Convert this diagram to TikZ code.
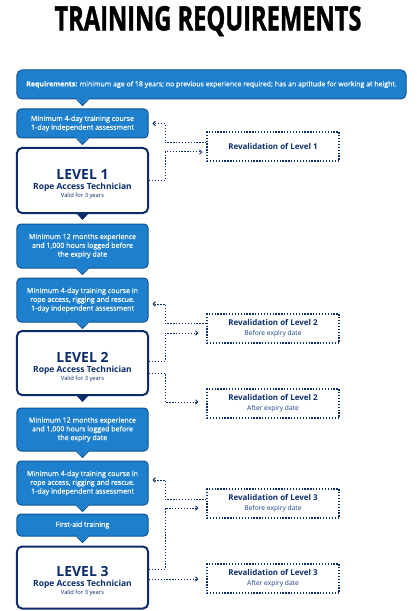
\documentclass[tikz,border=0pt]{standalone}
\usepackage{fontspec}
\setmainfont{Open Sans}
\newfontfamily\titlefont[FakeBold=1.5]{Open Sans}
\newfontfamily\semifont[FakeBold=0.35]{Open Sans}
\usetikzlibrary{arrows.meta}
\definecolor{bfill}{HTML}{1E80CC}
\definecolor{bline}{HTML}{0E5496}
\definecolor{navy}{HTML}{0D2C6C}
\definecolor{subblue}{HTML}{1B3F86}
\newcommand\bluetip[1]{%
  \fill[bfill] ([xshift=-6bp,yshift=1.5bp]#1) -- ([yshift=-6bp]#1) -- ([xshift=6bp,yshift=1.5bp]#1) -- cycle;
  \draw[bline,line width=1bp] ([xshift=-6bp]#1) -- ([yshift=-6bp]#1) -- ([xshift=6bp]#1);}
\newcommand\navytip[1]{%
  \fill[navy] ([xshift=-6bp,yshift=0.5bp]#1) -- ([yshift=-6bp]#1) -- ([xshift=6bp,yshift=0.5bp]#1) -- cycle;}
\newcommand\lvltext[1]{{\fontsize{14}{14}\selectfont\bfseries LEVEL #1}\\[-2bp]{\fontsize{8.5}{10}\selectfont\bfseries Rope Access Technician}\\[-4bp]{\fontsize{5.8}{7}\selectfont Valid for 3 years}}
\begin{document}
\begin{tikzpicture}[x=1bp,y=-1bp,
  bluebox/.style={draw=bline, fill=bfill, line width=1bp, rounded corners=4bp, text=white,
    font=\semifont\fontsize{7.1}{8.8}\selectfont, align=center, inner sep=0pt, minimum width=131bp},
  levelbox/.style={draw=navy, fill=white, line width=2bp, rounded corners=5bp,
    inner sep=0pt, minimum width=131bp},
  lvltxt/.style={text=navy, align=center, inner sep=0pt},
  revalbox/.style={draw=navy, line width=1.2bp, dash pattern=on 1.3bp off 1.6bp, text=navy,
    align=center, inner sep=0pt, minimum width=132bp, minimum height=29bp},
  conn/.style={draw=navy, line width=1bp, dash pattern=on 1.3bp off 1.6bp,
    -{Straight Barb[length=2.2bp,width=4.5bp]}}]
\useasboundingbox (0,0) rectangle (416,611);
% title
\node (title) at (208,21) {\scalebox{0.72}[1.02]{\titlefont\bfseries\fontsize{33}{36}\selectfont TRAINING REQUIREMENTS}};
% requirements
\node[bluebox, minimum width=389bp, minimum height=29bp, rounded corners=5bp, font=\semifont\fontsize{7}{8.6}\selectfont] (req) at (211.5,84.5)
  {\textbf{Requirements:} minimum age of 18 years; no previous experience required; has an aptitude for working at height.};
% left column
\node[bluebox, minimum height=29bp] (c1) at (82.5,123.5) {Minimum 4-day training course\\1-day independent assessment};
\node[levelbox, minimum height=65bp] (L1) at (82.5,180.5) {};
\node[lvltxt] (L1t) at ([yshift=-4bp]L1.center) {\lvltext{1}};
\node[bluebox, minimum height=44bp] (b2) at (82.5,246) {Minimum 12 months experience\\and 1,000 hours logged before\\the expiry date};
\node[bluebox, minimum height=44bp] (c2) at (82.5,300) {Minimum 4-day training course in\\rope access, rigging and rescue.\\1-day independent assessment};
\node[levelbox, minimum height=64bp] (L2) at (82.5,363) {};
\node[lvltxt] (L2t) at ([yshift=-4bp]L2.center) {\lvltext{2}};
\node[bluebox, minimum height=43bp] (b4) at (82.5,429.5) {Minimum 12 months experience\\and 1,000 hours logged before\\the expiry date};
\node[bluebox, minimum height=44bp] (c5) at (82.5,483) {Minimum 4-day training course in\\rope access, rigging and rescue.\\1-day independent assessment};
\node[bluebox, minimum height=22bp] (fa) at (82.5,525) {First-aid training};
\node[levelbox, minimum height=62bp] (L3) at (82.5,577.5) {};
\node[lvltxt] (L3t) at ([yshift=-4bp]L3.center) {\lvltext{3}};
% pointers
\coordinate (reqtip) at (req.south -| c1.south);
\bluetip{reqtip}
\bluetip{c1.south}
\bluetip{b2.south}
\bluetip{c2.south}
\bluetip{b4.south}
\bluetip{c5.south}
\bluetip{fa.south}
\navytip{L1.south}
\navytip{L2.south}
% revalidation boxes
\node[revalbox] (r1) at (273,146.5) {\fontsize{8}{10}\selectfont\bfseries Revalidation of Level 1};
\node[revalbox] (r2b) at (273,328.5) {{\fontsize{8}{10}\selectfont\bfseries Revalidation of Level 2}\\[-1.5bp]{\fontsize{6.7}{7}\selectfont\color{subblue}Before expiry date}};
\node[revalbox] (r2a) at (273,403.5) {{\fontsize{8}{10}\selectfont\bfseries Revalidation of Level 2}\\[-1.5bp]{\fontsize{6.7}{7}\selectfont\color{subblue}After expiry date}};
\node[revalbox] (r3b) at (273,503.5) {{\fontsize{8}{10}\selectfont\bfseries Revalidation of Level 3}\\[-1.5bp]{\fontsize{6.7}{7}\selectfont\color{subblue}Before expiry date}};
\node[revalbox] (r3a) at (273,578.5) {{\fontsize{8}{10}\selectfont\bfseries Revalidation of Level 3}\\[-1.5bp]{\fontsize{6.7}{7}\selectfont\color{subblue}After expiry date}};
% connectors
\coordinate (bx) at (165,0);
% level 1
\coordinate (a1) at ([yshift=3.5bp]r1.west);
\coordinate (e1) at ([xshift=4bp]c1.east);
\draw[conn] (a1) -- (a1 -| bx) |- (e1);
\coordinate (s1) at (L1.east);
\coordinate (t1) at ([xshift=-4bp,yshift=-5.5bp]r1.west);
\draw[conn] (s1) -- (s1 -| bx) |- (t1);
% level 2
\coordinate (a2) at ([yshift=5.5bp]r2b.west);
\coordinate (e2) at ([xshift=4bp,yshift=-4bp]c2.east);
\draw[conn] (a2) -- (a2 -| bx) |- (e2);
\coordinate (s2) at ([yshift=2bp]L2.east);
\coordinate (t2) at ([xshift=-8bp,yshift=-4.5bp]r2b.west);
\draw[conn] (s2) -- (s2 -| bx) |- (t2);
\coordinate (s3) at ([yshift=-10bp]L2.east);
\coordinate (t3) at ([xshift=-8bp,yshift=1.5bp]r2a.west);
\draw[conn] (s3) -- (s3 -| bx) |- (t3);
% level 3
\coordinate (a4) at ([yshift=4.5bp]r3b.west);
\coordinate (e4) at ([xshift=4bp,yshift=3bp]c5.east);
\draw[conn] (a4) -- (a4 -| bx) |- (e4);
\coordinate (s5) at ([yshift=8.5bp]L3.east);
\coordinate (t5) at ([xshift=-8bp,yshift=-4.5bp]r3b.west);
\draw[conn] (s5) -- (s5 -| bx) |- (t5);
\coordinate (s6) at ([yshift=-1.5bp]L3.east);
\coordinate (t6) at ([xshift=-8bp]s6 -| r3a.west);
\draw[conn] (s6) -- (t6);
\end{tikzpicture}
\end{document}
